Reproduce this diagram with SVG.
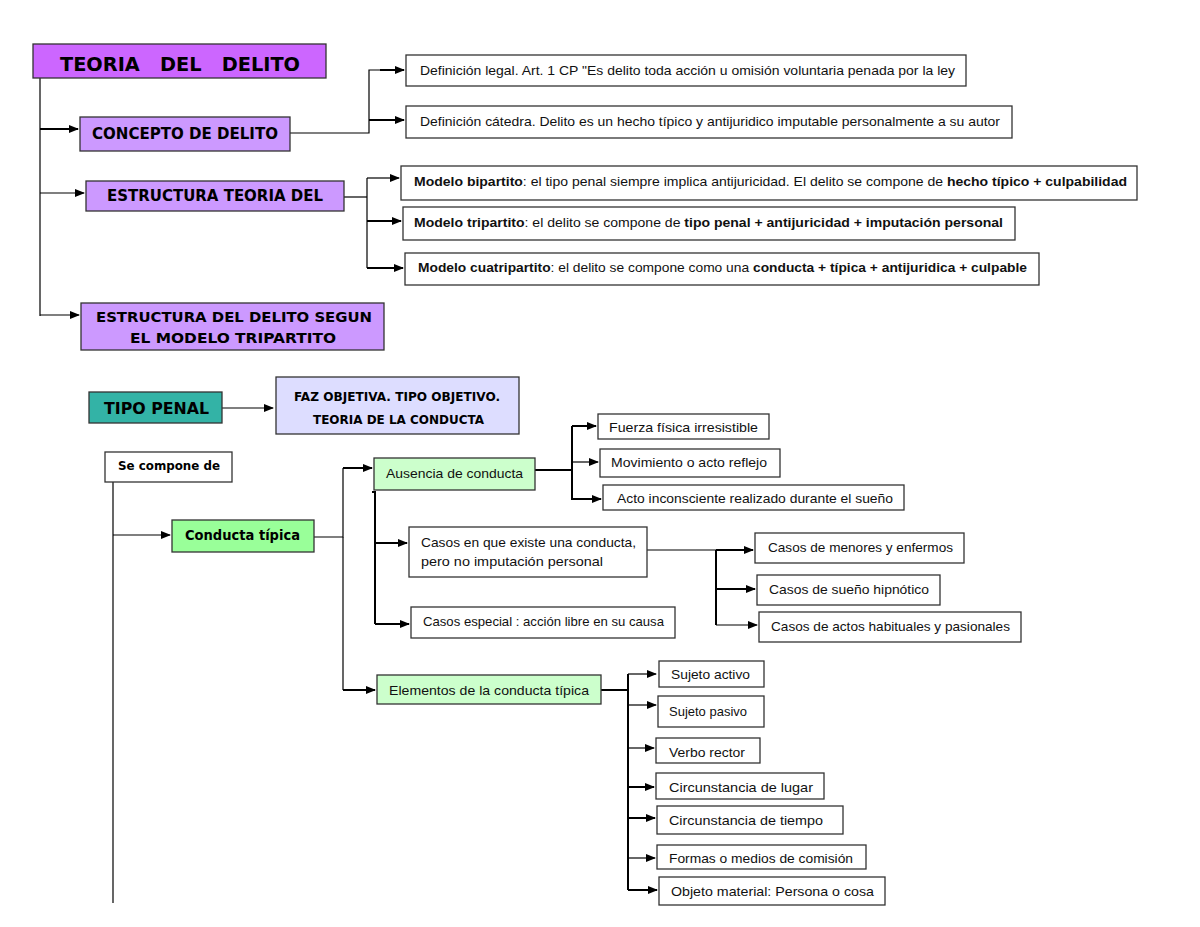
<svg xmlns="http://www.w3.org/2000/svg" width="1200" height="927" viewBox="0 0 1200 927">
<defs>
<marker id="ah" markerWidth="10" markerHeight="8" refX="9" refY="4" orient="auto" markerUnits="userSpaceOnUse">
<path d="M0,0 L10,4 L0,8 Z" fill="#000"/>
</marker>
<style>
.bx{stroke:#333;stroke-width:1.3}
.w{fill:#fff}
.t{font-family:"Liberation Sans Narrow","Liberation Sans",sans-serif;font-size:13px;fill:#111}
.h{font-family:"DejaVu Sans","Liberation Sans",sans-serif;font-weight:bold;fill:#000}
.c{fill:none;stroke:#000}
.k{stroke-width:2}
.n{stroke-width:1.2}
</style>
</defs>
<rect width="1200" height="927" fill="#fff"/>

<g id="connectors">
<path class="c n" d="M40,78 V316"/>
<path class="c k" d="M40,129 H78" marker-end="url(#ah)"/>
<path class="c n" d="M40,193 H84" marker-end="url(#ah)"/>
<path class="c n" d="M40,315 H79" marker-end="url(#ah)"/>
<path class="c n" d="M290,133 H369 V70 H380"/>
<path class="c k" d="M380,70 H404" marker-end="url(#ah)"/>
<path class="c k" d="M369,120 H404" marker-end="url(#ah)"/>
<path class="c n" d="M344,197 H367"/>
<path class="c n" d="M367,178 V268"/>
<path class="c n" d="M367,178 H399" marker-end="url(#ah)"/>
<path class="c k" d="M367,221 H401" marker-end="url(#ah)"/>
<path class="c k" d="M367,268 H403" marker-end="url(#ah)"/>
<path class="c n" d="M222,408 H273" marker-end="url(#ah)"/>
<path class="c n" d="M113,482 V903"/>
<path class="c n" d="M113,535 H170" marker-end="url(#ah)"/>
<path class="c n" d="M314,537 H343 V468"/>
<path class="c n" d="M343,537 V690"/>
<path class="c k" d="M343,468 H372" marker-end="url(#ah)"/>
<path class="c k" d="M343,690 H375" marker-end="url(#ah)"/>
<path class="c k" d="M372,492 H375 V624"/>
<path class="c k" d="M375,543 H407" marker-end="url(#ah)"/>
<path class="c k" d="M375,624 H409" marker-end="url(#ah)"/>
<path class="c k" d="M535,470 H572"/>
<path class="c k" d="M572,426 V500"/>
<path class="c k" d="M572,426 H596" marker-end="url(#ah)"/>
<path class="c n" d="M572,462 H598" marker-end="url(#ah)"/>
<path class="c k" d="M572,499 H601" marker-end="url(#ah)"/>
<path class="c n" d="M647,550 H716"/>
<path class="c k" d="M716,550 V625"/>
<path class="c k" d="M716,550 H753" marker-end="url(#ah)"/>
<path class="c k" d="M716,589 H755" marker-end="url(#ah)"/>
<path class="c n" d="M716,625 H757" marker-end="url(#ah)"/>
<path class="c k" d="M601,690 H628"/>
<path class="c k" d="M628,674 V890"/>
<path class="c n" d="M628,674 H656" marker-end="url(#ah)"/>
<path class="c n" d="M628,705 H656" marker-end="url(#ah)"/>
<path class="c n" d="M628,748 H654" marker-end="url(#ah)"/>
<path class="c k" d="M628,787 H654" marker-end="url(#ah)"/>
<path class="c k" d="M628,818 H655" marker-end="url(#ah)"/>
<path class="c n" d="M628,858 H655" marker-end="url(#ah)"/>
<path class="c k" d="M628,890 H657" marker-end="url(#ah)"/>
</g>

<g id="teoria-del-delito">
<rect class="bx" x="33" y="44" width="293" height="34" fill="#cc66ff"/>
<text class="h" x="60" y="71" font-size="19" textLength="240" lengthAdjust="spacingAndGlyphs" xml:space="preserve">TEORIA   DEL   DELITO</text>
</g>
<g id="concepto">
<rect class="bx" x="80" y="117" width="210" height="34" fill="#cc99ff"/>
<text class="h" x="92" y="139" font-size="15" textLength="186" lengthAdjust="spacingAndGlyphs">CONCEPTO DE DELITO</text>
</g>
<g id="estructura-teoria">
<rect class="bx" x="86" y="181" width="258" height="30" fill="#cc99ff"/>
<text class="h" x="107" y="201" font-size="15" textLength="216" lengthAdjust="spacingAndGlyphs">ESTRUCTURA TEORIA DEL</text>
</g>
<g id="estructura-tripartito">
<rect class="bx" x="81" y="303" width="303" height="47" fill="#cc99ff"/>
<text class="h" x="96" y="322" font-size="14" textLength="276" lengthAdjust="spacingAndGlyphs">ESTRUCTURA DEL DELITO SEGUN</text>
<text class="h" x="130" y="343" font-size="14" textLength="206" lengthAdjust="spacingAndGlyphs">EL MODELO TRIPARTITO</text>
</g>
<g id="def-legal">
<rect class="bx w" x="406" y="55" width="560" height="31"/>
<text class="t" x="420" y="75" textLength="535" lengthAdjust="spacingAndGlyphs">Definición legal. Art. 1 CP "Es delito toda acción u omisión voluntaria penada por la ley</text>
</g>
<g id="def-catedra">
<rect class="bx w" x="406" y="106" width="606" height="32"/>
<text class="t" x="420" y="126" textLength="580" lengthAdjust="spacingAndGlyphs">Definición cátedra. Delito es un hecho típico y antijuridico imputable personalmente a su autor</text>
</g>
<g id="bipartito">
<rect class="bx w" x="401" y="166" width="736" height="34"/>
<text class="t" x="414" y="186" textLength="713" lengthAdjust="spacingAndGlyphs"><tspan font-weight="bold">Modelo bipartito</tspan>: el tipo penal siempre implica antijuricidad. El delito se compone de <tspan font-weight="bold">hecho típico + culpabilidad</tspan></text>
</g>
<g id="tripartito">
<rect class="bx w" x="403" y="207" width="612" height="33"/>
<text class="t" x="414" y="227" textLength="589" lengthAdjust="spacingAndGlyphs"><tspan font-weight="bold">Modelo tripartito</tspan>: el delito se compone de <tspan font-weight="bold">tipo penal + antijuricidad + imputación personal</tspan></text>
</g>
<g id="cuatripartito">
<rect class="bx w" x="405" y="253" width="634" height="32"/>
<text class="t" x="418" y="272" textLength="609" lengthAdjust="spacingAndGlyphs"><tspan font-weight="bold">Modelo cuatripartito</tspan>: el delito se compone como una <tspan font-weight="bold">conducta + típica + antijuridica + culpable</tspan></text>
</g>
<g id="tipo-penal">
<rect class="bx" x="89" y="392" width="133" height="31" fill="#33b3a6"/>
<text class="h" x="104" y="414" font-size="16" textLength="105" lengthAdjust="spacingAndGlyphs">TIPO PENAL</text>
</g>
<g id="faz-objetiva">
<rect class="bx" x="276" y="377" width="243" height="57" fill="#ddddff"/>
<text class="h" x="294" y="401" font-size="13" textLength="206" lengthAdjust="spacingAndGlyphs">FAZ OBJETIVA. TIPO OBJETIVO.</text>
<text class="h" x="313" y="424" font-size="13" textLength="171" lengthAdjust="spacingAndGlyphs">TEORIA DE LA CONDUCTA</text>
</g>
<g id="se-compone">
<rect class="bx w" x="105" y="452" width="127" height="30"/>
<text class="h" x="118" y="470" font-size="13" textLength="102" lengthAdjust="spacingAndGlyphs">Se compone de</text>
</g>
<g id="conducta-tipica">
<rect class="bx" x="172" y="520" width="142" height="32" fill="#99ff99"/>
<text class="h" x="185" y="540" font-size="14" textLength="115" lengthAdjust="spacingAndGlyphs">Conducta típica</text>
</g>
<g id="ausencia">
<rect class="bx" x="374" y="458" width="161" height="32" fill="#ccffcc"/>
<text class="t" x="386" y="478" textLength="137" lengthAdjust="spacingAndGlyphs">Ausencia de conducta</text>
</g>
<g id="fuerza">
<rect class="bx w" x="598" y="414" width="171" height="25"/>
<text class="t" x="609" y="432" textLength="149" lengthAdjust="spacingAndGlyphs">Fuerza física  irresistible</text>
</g>
<g id="movimiento">
<rect class="bx w" x="600" y="449" width="180" height="28"/>
<text class="t" x="611" y="467" textLength="156" lengthAdjust="spacingAndGlyphs">Movimiento o acto reflejo</text>
</g>
<g id="acto">
<rect class="bx w" x="603" y="485" width="301" height="25"/>
<text class="t" x="617" y="503" textLength="276" lengthAdjust="spacingAndGlyphs">Acto inconsciente realizado durante el sueño</text>
</g>
<g id="casos-conducta">
<rect class="bx w" x="409" y="527" width="238" height="50"/>
<text class="t" x="421" y="547" textLength="215" lengthAdjust="spacingAndGlyphs">Casos en  que existe una conducta,</text>
<text class="t" x="421" y="566" textLength="182" lengthAdjust="spacingAndGlyphs">pero no imputación personal</text>
</g>
<g id="casos-especial">
<rect class="bx w" x="411" y="607" width="264" height="31"/>
<text class="t" x="423" y="626" textLength="241" lengthAdjust="spacingAndGlyphs">Casos especial : acción libre en su causa</text>
</g>
<g id="menores">
<rect class="bx w" x="755" y="533" width="209" height="30"/>
<text class="t" x="768" y="552" textLength="185" lengthAdjust="spacingAndGlyphs">Casos de menores y enfermos</text>
</g>
<g id="hipnotico">
<rect class="bx w" x="757" y="575" width="183" height="30"/>
<text class="t" x="769" y="594" textLength="160" lengthAdjust="spacingAndGlyphs">Casos de sueño hipnótico</text>
</g>
<g id="habituales">
<rect class="bx w" x="759" y="612" width="262" height="30"/>
<text class="t" x="771" y="631" textLength="239" lengthAdjust="spacingAndGlyphs">Casos de actos habituales y pasionales</text>
</g>
<g id="elementos">
<rect class="bx" x="377" y="675" width="224" height="29" fill="#ccffcc"/>
<text class="t" x="389" y="695" textLength="200" lengthAdjust="spacingAndGlyphs">Elementos de la conducta típica</text>
</g>
<g id="sujeto-activo">
<rect class="bx w" x="659" y="661" width="105" height="26"/>
<text class="t" x="671" y="679" textLength="79" lengthAdjust="spacingAndGlyphs">Sujeto activo</text>
</g>
<g id="sujeto-pasivo">
<rect class="bx w" x="658" y="696" width="106" height="31"/>
<text class="t" x="669" y="716" textLength="78" lengthAdjust="spacingAndGlyphs">Sujeto pasivo</text>
</g>
<g id="verbo-rector">
<rect class="bx w" x="656" y="738" width="104" height="25"/>
<text class="t" x="669" y="757" textLength="76" lengthAdjust="spacingAndGlyphs">Verbo rector</text>
</g>
<g id="lugar">
<rect class="bx w" x="656" y="773" width="168" height="26"/>
<text class="t" x="669" y="792" textLength="144" lengthAdjust="spacingAndGlyphs">Circunstancia de lugar</text>
</g>
<g id="tiempo">
<rect class="bx w" x="657" y="806" width="186" height="28"/>
<text class="t" x="669" y="825" textLength="154" lengthAdjust="spacingAndGlyphs">Circunstancia de tiempo</text>
</g>
<g id="formas">
<rect class="bx w" x="657" y="845" width="209" height="24"/>
<text class="t" x="669" y="863" textLength="184" lengthAdjust="spacingAndGlyphs">Formas o medios de comisión</text>
</g>
<g id="objeto">
<rect class="bx w" x="659" y="877" width="226" height="28"/>
<text class="t" x="671" y="896" textLength="203" lengthAdjust="spacingAndGlyphs">Objeto material: Persona o cosa</text>
</g>
</svg>
